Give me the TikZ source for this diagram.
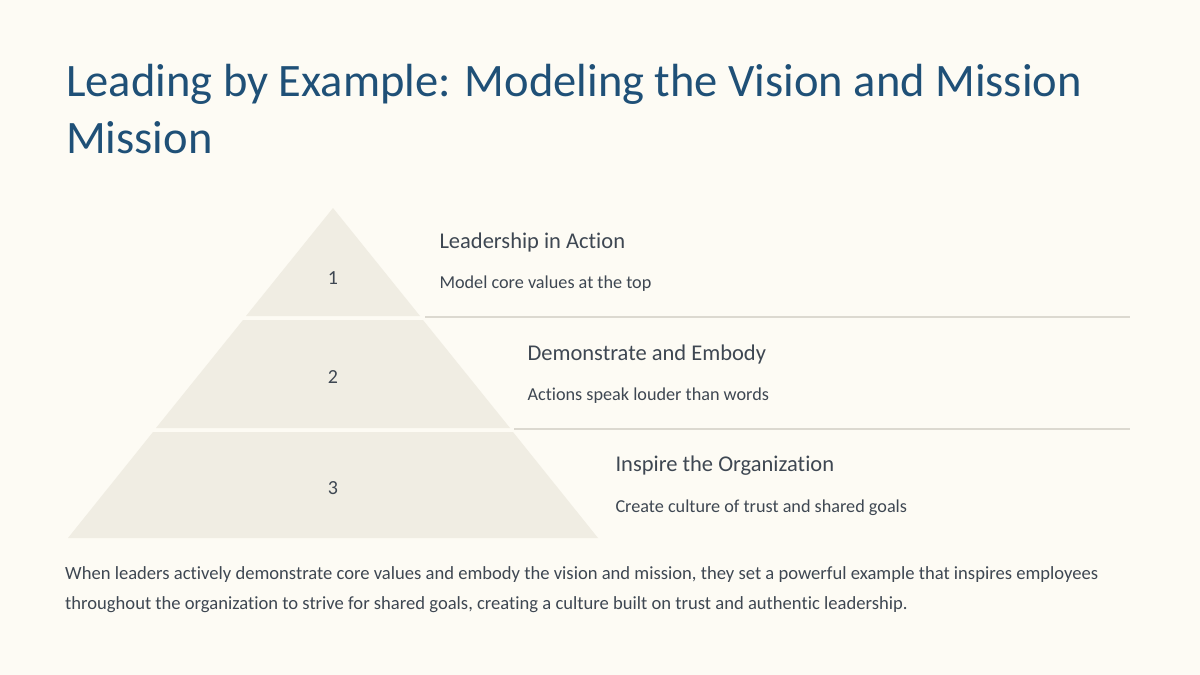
\documentclass[tikz,border=0pt]{standalone}
\usepackage{fontspec}
\setmainfont[Ligatures={NoCommon}]{Carlito}
\usetikzlibrary{positioning}
\definecolor{bgcol}{HTML}{FDFBF4}
\definecolor{tiercol}{HTML}{F0EDE3}
\definecolor{titlecol}{HTML}{1F5077}
\definecolor{textcol}{HTML}{3E4752}
\definecolor{rulecol}{HTML}{DCD9D0}
\begin{document}
\begin{tikzpicture}
  [x=1pt, y=-1pt,
   tier/.style={fill=tiercol, draw=none},
   num/.style={font=\fontsize{20}{22}\selectfont, text=textcol},
   head/.style={anchor=west, font=\fontsize{22.5}{24}\selectfont, text=textcol},
   sub/.style={anchor=west, font=\fontsize{18.2}{20}\selectfont, text=textcol},
   sep/.style={draw=rulecol, line width=1.2pt}]
  \fill[bgcol] (0,0) rectangle (1200,675);
  \useasboundingbox (0,0) rectangle (1200,675);

  % title
  \node[anchor=north west, align=left, text=titlecol, inner sep=0pt,
        font=\fontsize{46.5}{57}\selectfont] (title) at (66,64)
    {Leading by Example: Modeling the Vision and Mission\\Mission};

  % pyramid tiers
  \fill[tier] (333,208) -- (420,316) -- (246,316) -- cycle;
  \fill[tier] (243,320) -- (423,320) -- (510,428) -- (156,428) -- cycle;
  \fill[tier] (153,432) -- (513,432) -- (598,538) -- (68,538) -- cycle;
  \node[num] (n1) at (333,278) {1};
  \node[num] (n2) at (333,377) {2};
  \node[num] (n3) at (333,488) {3};

  % separators
  \coordinate (s1a) at (425,317); \coordinate (s1b) at (1130,317);
  \coordinate (s2a) at (514,429); \coordinate (s2b) at (1130,429);
  \draw[sep] (s1a) -- (s1b);
  \draw[sep] (s2a) -- (s2b);

  % labels
  \node[head] (h1) at (436,242) {Leadership in Action};
  \node[sub]  (d1) at (436,284) {Model core values at the top};
  \node[head] (h2) at (524,354) {Demonstrate and Embody};
  \node[sub]  (d2) at (524,396) {Actions speak louder than words};
  \node[head] (h3) at (612,466) {Inspire the Organization};
  \node[sub]  (d3) at (612,508) {Create culture of trust and shared goals};

  % footer
  \node[anchor=north west, align=left, text=textcol, inner sep=0pt,
        font=\fontsize{18.6}{30}\selectfont] (body) at (65,566)
    {When leaders actively demonstrate core values and embody the vision and mission, they set a powerful example that inspires employees\\
     throughout the organization to strive for shared goals, creating a culture built on trust and authentic leadership.};
\end{tikzpicture}
\end{document}
